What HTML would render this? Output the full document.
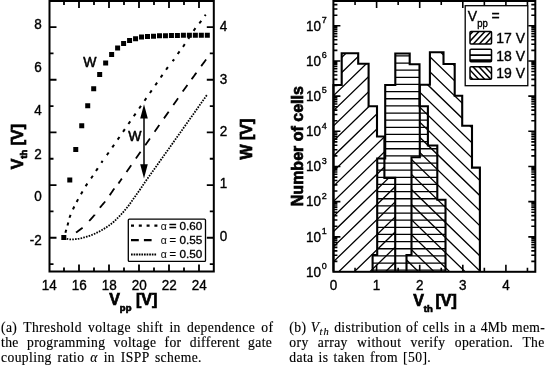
<!DOCTYPE html>
<html><head><meta charset="utf-8"><title>ISPP figure</title><style>
html,body{margin:0;padding:0;background:#fff;}
body{width:546px;height:367px;overflow:hidden;position:relative;}
svg{position:absolute;left:0;top:0;}
svg text{font-family:"Liberation Sans", Arial, sans-serif;fill:#000;}
.tl{stroke:#000;stroke-width:0.35px;}
.tn{stroke:none;}
.tw{stroke:#000;stroke-width:0.55px;}
.tb{stroke:#000;stroke-width:0.7px;font-weight:bold;}
.cap{position:absolute;font-family:"Liberation Serif", "Times New Roman", serif;font-size:13.6px;line-height:15px;letter-spacing:0.4px;color:#000;-webkit-text-stroke:0.15px #000;white-space:nowrap;}
.j{text-align:justify;text-align-last:justify;}
</style></head><body>
<svg width="546" height="367" viewBox="0 0 546 367">
<path d="M64 271.5V267.5M64 1V5M79 271.5V264.5M79 1V8M94 271.5V267.5M94 1V5M109 271.5V264.5M109 1V8M124 271.5V267.5M124 1V5M139 271.5V264.5M139 1V8M154 271.5V267.5M154 1V5M169 271.5V264.5M169 1V8M184 271.5V267.5M184 1V5M199 271.5V264.5M199 1V8M49.5 27.05H56.5M213.8 27.05H206.8M49.5 53.39H53.5M213.8 53.39H209.8M49.5 79.73H56.5M213.8 79.73H206.8M49.5 106.07H53.5M213.8 106.07H209.8M49.5 132.41H56.5M213.8 132.41H206.8M49.5 158.75H53.5M213.8 158.75H209.8M49.5 185.09H56.5M213.8 185.09H206.8M49.5 211.43H53.5M213.8 211.43H209.8M49.5 237.77H56.5M213.8 237.77H206.8M49.5 264.11H53.5M213.8 264.11H209.8" stroke="#000" stroke-width="1.8" fill="none"/>
<rect x="49.5" y="1" width="164.3" height="270.5" stroke="#000" stroke-width="2" fill="none"/>
<text transform="translate(41.8 28.9) scale(1 1.1)" font-size="13.5" text-anchor="end" class="tl">8</text>
<text transform="translate(41.8 71.7) scale(1 1.1)" font-size="13.5" text-anchor="end" class="tl">6</text>
<text transform="translate(41.8 115.2) scale(1 1.1)" font-size="13.5" text-anchor="end" class="tl">4</text>
<text transform="translate(41.8 158.9) scale(1 1.1)" font-size="13.5" text-anchor="end" class="tl">2</text>
<text transform="translate(41.8 201.2) scale(1 1.1)" font-size="13.5" text-anchor="end" class="tl">0</text>
<text transform="translate(41.8 244.8) scale(1 1.1)" font-size="13.5" text-anchor="end" class="tl">-2</text>
<text transform="translate(219.8 31.4) scale(1 1.1)" font-size="13.5" text-anchor="start" class="tl">4</text>
<text transform="translate(219.8 84.2) scale(1 1.1)" font-size="13.5" text-anchor="start" class="tl">3</text>
<text transform="translate(219.8 135.8) scale(1 1.1)" font-size="13.5" text-anchor="start" class="tl">2</text>
<text transform="translate(219.8 188.4) scale(1 1.1)" font-size="13.5" text-anchor="start" class="tl">1</text>
<text transform="translate(219.8 241.2) scale(1 1.1)" font-size="13.5" text-anchor="start" class="tl">0</text>
<text transform="translate(49.2 290.1) scale(1 1.1)" font-size="13.5" text-anchor="middle" class="tl">14</text>
<text transform="translate(79.2 290.1) scale(1 1.1)" font-size="13.5" text-anchor="middle" class="tl">16</text>
<text transform="translate(109.2 290.1) scale(1 1.1)" font-size="13.5" text-anchor="middle" class="tl">18</text>
<text transform="translate(139.2 290.1) scale(1 1.1)" font-size="13.5" text-anchor="middle" class="tl">20</text>
<text transform="translate(169.2 290.1) scale(1 1.1)" font-size="13.5" text-anchor="middle" class="tl">22</text>
<text transform="translate(199.2 290.1) scale(1 1.1)" font-size="13.5" text-anchor="middle" class="tl">24</text>
<text transform="translate(22.5 169.3) rotate(-90)" font-size="16" class="tb">V<tspan font-size="9.5" dy="4">th</tspan><tspan dy="-4"> [V]</tspan></text>
<text transform="translate(252.3 159.5) rotate(-90)" font-size="16" class="tb">W [V]</text>
<text x="109.2" y="305" font-size="16" class="tb">V<tspan font-size="9.5" dy="6">pp</tspan><tspan dy="-6"> [V]</tspan></text>
<path d="M61.3 235.1h5v5h-5zM67.28 177.4h5v5h-5zM73.26 147h5v5h-5zM79.24 123.3h5v5h-5zM85.22 103.2h5v5h-5zM91.2 86.2h5v5h-5zM97.18 72h5v5h-5zM103.16 60.4h5v5h-5zM109.14 52h5v5h-5zM115.12 45.4h5v5h-5zM121.1 41h5v5h-5zM127.08 37.9h5v5h-5zM133.06 36.2h5v5h-5zM139.04 34.6h5v5h-5zM145.02 34h5v5h-5zM151 33.7h5v5h-5zM156.98 33.3h5v5h-5zM162.96 33.3h5v5h-5zM168.94 33h5v5h-5zM174.92 32.9h5v5h-5zM180.9 32.8h5v5h-5zM186.88 32.7h5v5h-5zM192.86 32.7h5v5h-5zM198.84 32.7h5v5h-5zM204.82 32.7h5v5h-5z" fill="#000"/>
<text transform="translate(83.2 67) scale(1 1.05)" font-size="14" text-anchor="start" class="tw">W</text>
<path d="M65.4 232.85L65.55 232.25L65.8 231.3L66.05 230.4L66.23 229.76M67.46 225.54L67.64 224.93L67.9 224L68.15 223.06L68.31 222.45M69.51 217.82L69.67 217.29L70 216.3L70.38 215.29L70.57 214.8M72.92 209.45L73.13 209L73.6 208L74.06 207.03L74.29 206.56M76.64 202.01L76.89 201.54L77.4 200.6L77.92 199.64L78.17 199.2M81 194.19L81.23 193.78L81.8 192.8L82.37 191.82L82.6 191.41M85.65 186.25L85.87 185.89L86.5 184.9L87.15 183.91L87.39 183.57M91.09 178.31L91.34 177.96L92 177L92.64 176.06L92.89 175.67M96.02 170.94L96.27 170.56L96.9 169.6L97.55 168.61L97.78 168.26M101.4 162.72L101.62 162.4L102.3 161.4L102.62 160.95L102.41 161.28L102.05 161.84M106.88 155.11L107.8 153.8L108.71 152.49M112.27 147.35L112.99 146.32L114.1 144.72M117.65 139.59L119.47 136.96M123.03 131.82L124.85 129.19M128.4 124.05L130.22 121.42M133.78 116.28L135.6 113.65M139.15 108.52L140.98 105.88M144.53 100.75L146.32 98.16L146.35 98.12M149.91 92.98L151.73 90.35M155.29 85.22L157.12 82.59M160.68 77.46L161.77 75.89L162.51 74.83M166.08 69.71L167 68.4L167.92 67.09M173.26 60.13L172.95 60.74L172.83 61.05L173.2 60.6L173.91 59.61L174.13 59.3M177.69 54.02L177.94 53.65L178.6 52.7L179.23 51.83L179.54 51.41M182.99 46.81L183.9 45.5L184.79 44.17M188.31 38.83L189.17 37.51L190.06 36.15M193.59 30.82L194.5 29.5L195.43 28.2M199.31 23.36L199.63 22.97L200.3 22.1L201.03 21.12L201.26 20.82M204.76 16L205.29 15.27L205.7 14.7" fill="none" stroke="#000" stroke-width="2" stroke-linecap="butt"/>
<path d="M76 232.6L76.9 231.99L77.86 231.32L78.86 230.6L79.88 229.85L80.9 229.08L81.89 228.31L82.6 227.73M89.2 221L89.2 221L89.94 220.18L90.72 219.32L91.51 218.43L92.31 217.53L93.1 216.63L93.87 215.73L94.61 214.85L94.61 214.84M99.9 207.7L99.9 207.7L100.55 206.89L101.24 206.08L101.95 205.26L102.67 204.43L103.39 203.61L104.09 202.79L104.76 201.99L105.2 201.45M109.7 195.2L109.7 195.2L110.29 194.36L110.89 193.47L111.51 192.56L112.13 191.63L112.76 190.71L113.38 189.8L114 188.93L114.35 188.45M119.2 182.4L119.2 182.4L119.46 182.08L119.21 182.45L118.77 183.09L118.44 183.56L118.53 183.42L119.35 182.23L121.2 179.57L121.86 178.64M126.52 171.96L129.48 167.73L131.22 165.24M135.88 158.57L136.4 157.83L140.58 151.84M145.24 145.17L149.94 138.45M154.6 131.77L159.3 125.05M163.96 118.38L168.66 111.66M173.33 104.99L177.41 99.14L178.03 98.27M182.7 91.6L182.7 91.6L186.17 86.67L187.42 84.9M191.6 79.3L192.8 77.65L194.05 75.92L195.33 74.15L196.41 72.66M201.2 66.1L201.2 66.1L202.11 64.86L202.97 63.71L203.77 62.64L204.5 61.67L205.16 60.81L205.73 60.05L206.12 59.54" fill="none" stroke="#000" stroke-width="1.8" stroke-linecap="butt"/>
<polyline points="64,238 64.47,238.12 65.07,238.3 65.79,238.52 66.59,238.75 67.47,238.97 68.39,239.17 69.35,239.32 70.3,239.4 71.28,239.42 72.31,239.4 73.39,239.35 74.5,239.26 75.65,239.14 76.82,238.99 78,238.81 79.2,238.6 80.43,238.35 81.71,238.07 83.02,237.74 84.34,237.39 85.67,237.02 86.98,236.62 88.27,236.22 89.5,235.8 90.7,235.37 91.87,234.92 93.03,234.44 94.16,233.96 95.28,233.45 96.37,232.94 97.45,232.42 98.5,231.9 99.53,231.37 100.52,230.85 101.49,230.31 102.44,229.76 103.38,229.2 104.31,228.62 105.25,228.02 106.2,227.4 107.15,226.76 108.1,226.11 109.05,225.44 110,224.75 110.95,224.04 111.9,223.29 112.85,222.52 113.8,221.7 114.77,220.83 115.75,219.92 116.73,218.96 117.72,217.97 118.7,216.98 119.66,215.97 120.59,214.98 121.5,214 122.38,213.04 123.23,212.07 124.06,211.11 124.88,210.15 125.68,209.19 126.47,208.22 127.24,207.26 128,206.3 128.73,205.35 129.43,204.43 130.1,203.52 130.76,202.61 131.42,201.67 132.11,200.7 132.83,199.68 133.6,198.6 134.43,197.43 135.32,196.18 136.25,194.88 137.19,193.54 138.14,192.2 139.07,190.88 139.96,189.61 140.8,188.4 141.58,187.26 142.33,186.17 143.04,185.1 143.74,184.07 144.42,183.05 145.1,182.04 145.79,181.02 146.5,180 147.05,179.22 147.35,178.79 147.56,178.5 147.82,178.15 148.27,177.52 149.08,176.41 150.37,174.61 152.3,171.9 155.02,168.08 158.44,163.27 162.39,157.72 166.66,151.71 171.08,145.5 175.45,139.35 179.59,133.53 183.3,128.3 186.8,123.37 190.35,118.35 193.87,113.39 197.24,108.63 200.37,104.2 203.15,100.26 205.5,96.95 207.3,94.4" fill="none" stroke="#000" stroke-width="1.8" stroke-dasharray="1.6 1.2"/>
<path d="M144 112V171" stroke="#000" stroke-width="1.5"/>
<path d="M144 104.2L140.2 118.6H147.8Z M144 178.6L140.2 164.2H147.8Z" fill="#000"/>
<text transform="translate(128.2 141.3) scale(1 1.05)" font-size="14" text-anchor="start" class="tw">W</text>
<rect x="128.3" y="219.2" width="77.2" height="42.2" rx="1" fill="#fff" stroke="#000" stroke-width="1.3"/>
<path d="M131 225.6H157.5" stroke="#000" stroke-width="2.4" stroke-dasharray="3 4.8"/>
<path d="M131 240.1H138.8M143.9 240.1H151.6" stroke="#000" stroke-width="2.4"/>
<path d="M131 254.5H157" stroke="#000" stroke-width="2.1" stroke-dasharray="1.7 0.9"/>
<text transform="translate(160.8 230) scale(1 1)" font-size="10.5" text-anchor="start" class="tn">α</text>
<text transform="translate(172.7 229.8) scale(1 1)" font-size="13" text-anchor="middle" class="tl">=</text>
<text transform="translate(179.4 230) scale(1 0.9)" font-size="11.7" text-anchor="start" class="tl">0.60</text>
<text transform="translate(160.8 243.8) scale(1 1)" font-size="10.5" text-anchor="start" class="tn">α</text>
<text transform="translate(172.7 243.8) scale(1 1)" font-size="11" text-anchor="middle" class="tl">=</text>
<text transform="translate(179.4 243.8) scale(1 0.9)" font-size="11.7" text-anchor="start" class="tl">0.55</text>
<text transform="translate(160.8 258.2) scale(1 1)" font-size="10.5" text-anchor="start" class="tn">α</text>
<text transform="translate(172.7 258.2) scale(1 1)" font-size="11" text-anchor="middle" class="tl">=</text>
<text transform="translate(179.4 258.2) scale(1 0.9)" font-size="11.7" text-anchor="start" class="tl">0.50</text>
<defs>
<clipPath id="c17"><polygon points="333.5,271.5 333.5,85 341.7,85 341.7,53.2 358.2,53.2 358.2,63.8 368.6,63.8 368.6,106.2 377,106.2 377,136.5 384.4,136.5 384.4,177.9 395.2,177.9 395.2,271.5"/></clipPath>
<clipPath id="c18"><polygon points="372.6,271.5 372.6,255 377.2,255 377.2,158.5 385.2,158.5 385.2,85 395.3,85 395.3,53.5 409.7,53.5 409.7,64.2 419.5,64.2 419.5,106.2 427.9,106.2 427.9,145.5 437.3,145.5 437.3,199.7 445.5,199.7 445.5,271.5"/></clipPath>
<clipPath id="c19"><polygon points="406.5,271.5 406.5,255 411.5,255 411.5,157.3 419.8,157.3 419.8,84.8 429.9,84.8 429.9,52.3 443.5,52.3 443.5,64 454.7,64 454.7,95.7 462.2,95.7 462.2,125.8 472,125.8 472,167.6 479.9,167.6 479.9,271.5"/></clipPath>
</defs>
<g clip-path="url(#c17)"><path d="M320 -132.9L500 -307.5M320 -117.8L500 -292.4M320 -102.7L500 -277.3M320 -87.6L500 -262.2M320 -72.5L500 -247.1M320 -57.4L500 -232M320 -42.3L500 -216.9M320 -27.2L500 -201.8M320 -12.1L500 -186.7M320 3L500 -171.6M320 18.1L500 -156.5M320 33.2L500 -141.4M320 48.3L500 -126.3M320 63.4L500 -111.2M320 78.5L500 -96.1M320 93.6L500 -81M320 108.7L500 -65.9M320 123.8L500 -50.8M320 138.9L500 -35.7M320 154L500 -20.6M320 169.1L500 -5.5M320 184.2L500 9.6M320 199.3L500 24.7M320 214.4L500 39.8M320 229.5L500 54.9M320 244.6L500 70M320 259.7L500 85.1M320 274.8L500 100.2M320 289.9L500 115.3M320 305L500 130.4M320 320.1L500 145.5M320 335.2L500 160.6M320 350.3L500 175.7M320 365.4L500 190.8M320 380.5L500 205.9M320 395.6L500 221M320 410.7L500 236.1M320 425.8L500 251.2M320 440.9L500 266.3M320 456L500 281.4M320 471.1L500 296.5M320 486.2L500 311.6M320 501.3L500 326.7M320 516.4L500 341.8M320 531.5L500 356.9M320 546.6L500 372M320 561.7L500 387.1M320 576.8L500 402.2M320 591.9L500 417.3M320 607L500 432.4M320 622.1L500 447.5M320 637.2L500 462.6M320 652.3L500 477.7M320 667.4L500 492.8M320 682.5L500 507.9M320 697.6L500 523M320 712.7L500 538.1M320 727.8L500 553.2M320 742.9L500 568.3M320 758L500 583.4" stroke="#000" stroke-width="1.3" fill="none"/></g>
<g clip-path="url(#c18)"><path d="M360 41.61H450M360 48.76H450M360 55.9H450M360 63.04H450M360 70.19H450M360 77.33H450M360 84.47H450M360 91.61H450M360 98.75H450M360 105.9H450M360 113.04H450M360 120.18H450M360 127.32H450M360 134.47H450M360 141.61H450M360 148.75H450M360 155.9H450M360 163.04H450M360 170.18H450M360 177.32H450M360 184.47H450M360 191.61H450M360 198.75H450M360 205.89H450M360 213.03H450M360 220.18H450M360 227.32H450M360 234.46H450M360 241.61H450M360 248.75H450M360 255.89H450M360 263.03H450M360 270.18H450M360 277.32H450" stroke="#000" stroke-width="1.3" fill="none"/></g>
<g clip-path="url(#c19)"><path d="M380 -292.8L500 -176.4M380 -277.74L500 -161.34M380 -262.68L500 -146.28M380 -247.62L500 -131.22M380 -232.56L500 -116.16M380 -217.5L500 -101.1M380 -202.44L500 -86.04M380 -187.38L500 -70.98M380 -172.32L500 -55.92M380 -157.26L500 -40.86M380 -142.2L500 -25.8M380 -127.14L500 -10.74M380 -112.08L500 4.32M380 -97.02L500 19.38M380 -81.96L500 34.44M380 -66.9L500 49.5M380 -51.84L500 64.56M380 -36.78L500 79.62M380 -21.72L500 94.68M380 -6.66L500 109.74M380 8.4L500 124.8M380 23.46L500 139.86M380 38.52L500 154.92M380 53.58L500 169.98M380 68.64L500 185.04M380 83.7L500 200.1M380 98.76L500 215.16M380 113.82L500 230.22M380 128.88L500 245.28M380 143.94L500 260.34M380 159L500 275.4M380 174.06L500 290.46M380 189.12L500 305.52M380 204.18L500 320.58M380 219.24L500 335.64M380 234.3L500 350.7M380 249.36L500 365.76M380 264.42L500 380.82M380 279.48L500 395.88M380 294.54L500 410.94M380 309.6L500 426M380 324.66L500 441.06M380 339.72L500 456.12M380 354.78L500 471.18M380 369.84L500 486.24M380 384.9L500 501.3M380 399.96L500 516.36M380 415.02L500 531.42M380 430.08L500 546.48M380 445.14L500 561.54M380 460.2L500 576.6M380 475.26L500 591.66M380 490.32L500 606.72M380 505.38L500 621.78M380 520.44L500 636.84M380 535.5L500 651.9M380 550.56L500 666.96M380 565.62L500 682.02M380 580.68L500 697.08M380 595.74L500 712.14" stroke="#000" stroke-width="1.3" fill="none"/></g>
<polyline points="333.5,271.5 333.5,85 341.7,85 341.7,53.2 358.2,53.2 358.2,63.8 368.6,63.8 368.6,106.2 377,106.2 377,136.5 384.4,136.5 384.4,177.9 395.2,177.9 395.2,271.5" fill="none" stroke="#000" stroke-width="2.1" stroke-linejoin="miter"/>
<polyline points="372.6,271.5 372.6,255 377.2,255 377.2,158.5 385.2,158.5 385.2,85 395.3,85 395.3,53.5 409.7,53.5 409.7,64.2 419.5,64.2 419.5,106.2 427.9,106.2 427.9,145.5 437.3,145.5 437.3,199.7 445.5,199.7 445.5,271.5" fill="none" stroke="#000" stroke-width="2.1" stroke-linejoin="miter"/>
<polyline points="406.5,271.5 406.5,255 411.5,255 411.5,157.3 419.8,157.3 419.8,84.8 429.9,84.8 429.9,52.3 443.5,52.3 443.5,64 454.7,64 454.7,95.7 462.2,95.7 462.2,125.8 472,125.8 472,167.6 479.9,167.6 479.9,271.5" fill="none" stroke="#000" stroke-width="2.1" stroke-linejoin="miter"/>
<path d="M355.05 271.8V267.8M355.05 1V5M376.6 271.8V264.8M376.6 1V8M398.15 271.8V267.8M398.15 1V5M419.7 271.8V264.8M419.7 1V8M441.25 271.8V267.8M441.25 1V5M462.8 271.8V264.8M462.8 1V8M484.35 271.8V267.8M484.35 1V5M505.9 271.8V264.8M505.9 1V8M527.45 271.8V267.8M527.45 1V5M333.4 261.41H337.4M535.3 261.41H531.3M333.4 255.22H337.4M535.3 255.22H531.3M333.4 250.83H337.4M535.3 250.83H531.3M333.4 247.42H337.4M535.3 247.42H531.3M333.4 244.63H337.4M535.3 244.63H531.3M333.4 242.28H337.4M535.3 242.28H531.3M333.4 240.24H337.4M535.3 240.24H531.3M333.4 238.44H337.4M535.3 238.44H531.3M333.4 236.83H340.4M535.3 236.83H528.3M333.4 226.24H337.4M535.3 226.24H531.3M333.4 220.05H337.4M535.3 220.05H531.3M333.4 215.66H337.4M535.3 215.66H531.3M333.4 212.25H337.4M535.3 212.25H531.3M333.4 209.46H337.4M535.3 209.46H531.3M333.4 207.11H337.4M535.3 207.11H531.3M333.4 205.07H337.4M535.3 205.07H531.3M333.4 203.27H337.4M535.3 203.27H531.3M333.4 201.66H340.4M535.3 201.66H528.3M333.4 191.07H337.4M535.3 191.07H531.3M333.4 184.88H337.4M535.3 184.88H531.3M333.4 180.49H337.4M535.3 180.49H531.3M333.4 177.08H337.4M535.3 177.08H531.3M333.4 174.29H337.4M535.3 174.29H531.3M333.4 171.94H337.4M535.3 171.94H531.3M333.4 169.9H337.4M535.3 169.9H531.3M333.4 168.1H337.4M535.3 168.1H531.3M333.4 166.49H340.4M535.3 166.49H528.3M333.4 155.9H337.4M535.3 155.9H531.3M333.4 149.71H337.4M535.3 149.71H531.3M333.4 145.32H337.4M535.3 145.32H531.3M333.4 141.91H337.4M535.3 141.91H531.3M333.4 139.12H337.4M535.3 139.12H531.3M333.4 136.77H337.4M535.3 136.77H531.3M333.4 134.73H337.4M535.3 134.73H531.3M333.4 132.93H337.4M535.3 132.93H531.3M333.4 131.32H340.4M535.3 131.32H528.3M333.4 120.73H337.4M535.3 120.73H531.3M333.4 114.54H337.4M535.3 114.54H531.3M333.4 110.15H337.4M535.3 110.15H531.3M333.4 106.74H337.4M535.3 106.74H531.3M333.4 103.95H337.4M535.3 103.95H531.3M333.4 101.6H337.4M535.3 101.6H531.3M333.4 99.56H337.4M535.3 99.56H531.3M333.4 97.76H337.4M535.3 97.76H531.3M333.4 96.15H340.4M535.3 96.15H528.3M333.4 85.56H337.4M535.3 85.56H531.3M333.4 79.37H337.4M535.3 79.37H531.3M333.4 74.98H337.4M535.3 74.98H531.3M333.4 71.57H337.4M535.3 71.57H531.3M333.4 68.78H337.4M535.3 68.78H531.3M333.4 66.43H337.4M535.3 66.43H531.3M333.4 64.39H337.4M535.3 64.39H531.3M333.4 62.59H337.4M535.3 62.59H531.3M333.4 60.98H340.4M535.3 60.98H528.3M333.4 50.39H337.4M535.3 50.39H531.3M333.4 44.2H337.4M535.3 44.2H531.3M333.4 39.81H337.4M535.3 39.81H531.3M333.4 36.4H337.4M535.3 36.4H531.3M333.4 33.61H337.4M535.3 33.61H531.3M333.4 31.26H337.4M535.3 31.26H531.3M333.4 29.22H337.4M535.3 29.22H531.3M333.4 27.42H337.4M535.3 27.42H531.3M333.4 25.81H340.4M535.3 25.81H528.3M333.4 15.22H337.4M535.3 15.22H531.3M333.4 9.03H337.4M535.3 9.03H531.3M333.4 4.64H337.4M535.3 4.64H531.3" stroke="#000" stroke-width="1.6" fill="none"/>
<rect x="333.4" y="1" width="201.9" height="270.8" stroke="#000" stroke-width="2" fill="none"/>
<text transform="translate(321.1 276.7) scale(1 1.15)" font-size="13.5" text-anchor="end" class="tl">10</text>
<text transform="translate(321.7 269.2) scale(1 1.05)" font-size="9" text-anchor="start" class="tl">0</text>
<text transform="translate(321.1 241.53) scale(1 1.15)" font-size="13.5" text-anchor="end" class="tl">10</text>
<text transform="translate(321.7 234.03) scale(1 1.05)" font-size="9" text-anchor="start" class="tl">1</text>
<text transform="translate(321.1 206.36) scale(1 1.15)" font-size="13.5" text-anchor="end" class="tl">10</text>
<text transform="translate(321.7 198.86) scale(1 1.05)" font-size="9" text-anchor="start" class="tl">2</text>
<text transform="translate(321.1 171.19) scale(1 1.15)" font-size="13.5" text-anchor="end" class="tl">10</text>
<text transform="translate(321.7 163.69) scale(1 1.05)" font-size="9" text-anchor="start" class="tl">3</text>
<text transform="translate(321.1 136.02) scale(1 1.15)" font-size="13.5" text-anchor="end" class="tl">10</text>
<text transform="translate(321.7 128.52) scale(1 1.05)" font-size="9" text-anchor="start" class="tl">4</text>
<text transform="translate(321.1 100.85) scale(1 1.15)" font-size="13.5" text-anchor="end" class="tl">10</text>
<text transform="translate(321.7 93.35) scale(1 1.05)" font-size="9" text-anchor="start" class="tl">5</text>
<text transform="translate(321.1 65.68) scale(1 1.15)" font-size="13.5" text-anchor="end" class="tl">10</text>
<text transform="translate(321.7 58.18) scale(1 1.05)" font-size="9" text-anchor="start" class="tl">6</text>
<text transform="translate(321.1 30.51) scale(1 1.15)" font-size="13.5" text-anchor="end" class="tl">10</text>
<text transform="translate(321.7 23.01) scale(1 1.05)" font-size="9" text-anchor="start" class="tl">7</text>
<text transform="translate(333.5 290.1) scale(1 1.1)" font-size="13.5" text-anchor="middle" class="tl">0</text>
<text transform="translate(376.6 290.1) scale(1 1.1)" font-size="13.5" text-anchor="middle" class="tl">1</text>
<text transform="translate(419.7 290.1) scale(1 1.1)" font-size="13.5" text-anchor="middle" class="tl">2</text>
<text transform="translate(462.8 290.1) scale(1 1.1)" font-size="13.5" text-anchor="middle" class="tl">3</text>
<text transform="translate(505.9 290.1) scale(1 1.1)" font-size="13.5" text-anchor="middle" class="tl">4</text>
<text transform="translate(302.6 206.2) rotate(-90)" font-size="16" class="tb">Number of cells</text>
<text x="413.2" y="306" font-size="16" class="tb">V<tspan font-size="9.5" dy="5.5">th</tspan><tspan dy="-5.5" dx="-1.8"> [V]</tspan></text>
<rect x="465.2" y="5.7" width="62.6" height="80" fill="#fff" stroke="#000" stroke-width="1.3"/>
<text transform="translate(467.8 20.8) scale(1 1.1)" font-size="14" class="tl">V<tspan font-size="9.5" dy="6">pp</tspan><tspan dy="-6"> =</tspan></text>
<defs>
<clipPath id="s0"><rect x="470" y="31.4" width="21.5" height="12.6"/></clipPath>
<clipPath id="s1"><rect x="470" y="49.2" width="21.5" height="12.6"/></clipPath>
<clipPath id="s2"><rect x="470" y="66.7" width="21.5" height="12.6"/></clipPath>
</defs>
<g clip-path="url(#s0)"><path d="M448 45.4L462 30.4M454 45.4L468 30.4M460 45.4L474 30.4M466 45.4L480 30.4M472 45.4L486 30.4M478 45.4L492 30.4M484 45.4L498 30.4M490 45.4L504 30.4M496 45.4L510 30.4M502 45.4L516 30.4M508 45.4L522 30.4" stroke="#000" stroke-width="1.5" fill="none"/></g>
<rect x="470" y="31.4" width="21.5" height="12.6" rx="1" fill="none" stroke="#000" stroke-width="1.5"/>
<text transform="translate(496.2 43) scale(1 1.05)" font-size="14" text-anchor="start" class="tl">17 V</text>
<g clip-path="url(#s1)"><path d="M468 55.1H494M468 60.1H494" stroke="#000" stroke-width="1.6" fill="none"/></g>
<rect x="470" y="49.2" width="21.5" height="12.6" rx="1" fill="none" stroke="#000" stroke-width="1.5"/>
<text transform="translate(496.2 60.8) scale(1 1.05)" font-size="14" text-anchor="start" class="tl">18 V</text>
<g clip-path="url(#s2)"><path d="M448 65.7L462 80.7M454 65.7L468 80.7M460 65.7L474 80.7M466 65.7L480 80.7M472 65.7L486 80.7M478 65.7L492 80.7M484 65.7L498 80.7M490 65.7L504 80.7M496 65.7L510 80.7M502 65.7L516 80.7M508 65.7L522 80.7" stroke="#000" stroke-width="1.5" fill="none"/></g>
<rect x="470" y="66.7" width="21.5" height="12.6" rx="1" fill="none" stroke="#000" stroke-width="1.5"/>
<text transform="translate(496.2 78.3) scale(1 1.05)" font-size="14" text-anchor="start" class="tl">19 V</text>
</svg>
<div class="cap" style="left:1px;top:319.9px;word-spacing:2.37px;">(a) Threshold voltage shift in dependence of</div>
<div class="cap" style="left:1px;top:334.8px;word-spacing:4.36px;">the programming voltage for different gate</div>
<div class="cap" style="left:1px;top:350.4px;word-spacing:2px;">coupling ratio <i>α</i> in ISPP scheme.</div>
<div class="cap" style="left:289.3px;top:319.9px;word-spacing:0.64px;">(b) <i>V<sub style="font-size:10.5px;letter-spacing:1px;vertical-align:-2.5px">th</sub></i> distribution of cells in a 4Mb mem-</div>
<div class="cap" style="left:289.3px;top:334.8px;word-spacing:5.44px;">ory array without verify operation. The</div>
<div class="cap" style="left:289.3px;top:350.4px;word-spacing:1.25px;">data is taken from [50].</div>
</body></html>
